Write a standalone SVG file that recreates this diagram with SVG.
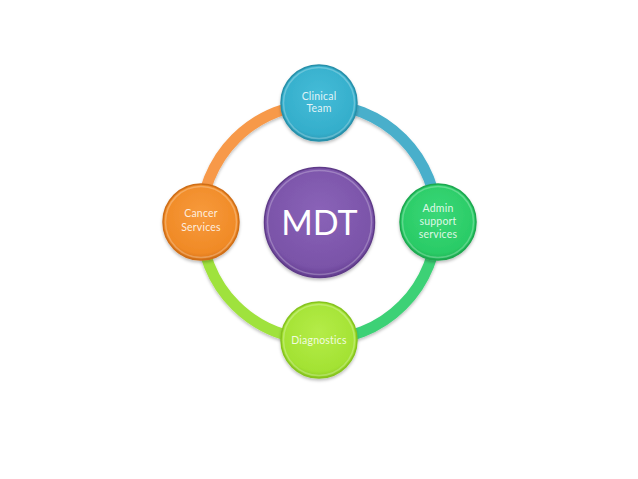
<svg xmlns="http://www.w3.org/2000/svg" width="638" height="479" viewBox="0 0 638 479">
  <defs>
    <radialGradient id="gBlue" cx="50%" cy="40%" r="60%">
      <stop offset="0" stop-color="#45bcd8"/>
      <stop offset="0.85" stop-color="#34aecb"/>
      <stop offset="1" stop-color="#2a98b4"/>
    </radialGradient>
    <radialGradient id="gOrange" cx="50%" cy="40%" r="60%">
      <stop offset="0" stop-color="#f79a3c"/>
      <stop offset="0.85" stop-color="#f08a26"/>
      <stop offset="1" stop-color="#d9741a"/>
    </radialGradient>
    <radialGradient id="gGreen" cx="50%" cy="40%" r="60%">
      <stop offset="0" stop-color="#3ad878"/>
      <stop offset="0.85" stop-color="#2acb66"/>
      <stop offset="1" stop-color="#1fb455"/>
    </radialGradient>
    <radialGradient id="gLime" cx="50%" cy="40%" r="60%">
      <stop offset="0" stop-color="#b4ec48"/>
      <stop offset="0.85" stop-color="#a3e233"/>
      <stop offset="1" stop-color="#8ccc22"/>
    </radialGradient>
    <radialGradient id="gPurple" cx="50%" cy="40%" r="60%">
      <stop offset="0" stop-color="#8a63b8"/>
      <stop offset="0.85" stop-color="#7a53a8"/>
      <stop offset="1" stop-color="#653f92"/>
    </radialGradient>
    <filter id="sh" x="-20%" y="-20%" width="140%" height="140%">
      <feDropShadow dx="0" dy="2" stdDeviation="1.5" flood-color="#000" flood-opacity="0.25"/>
    </filter>
  </defs>
  <style>
    .arc { fill: none; stroke-width: 11; filter: url(#sh); }
    .node { stroke-width: 1.5; filter: url(#sh); }
    .rim { fill: none; stroke: #ffffff; stroke-opacity: 0.25; stroke-width: 1.5; }
    .lbl { font-family: Lato, "Open Sans", "Liberation Sans", sans-serif; font-size: 10.5px; fill: #ffffff; fill-opacity: 0.85; text-anchor: middle; letter-spacing: 0.2px; }
    .big { font-family: Lato, "Open Sans", "Liberation Sans", sans-serif; font-size: 34px; fill: #ffffff; text-anchor: middle; }
  </style>
  <rect width="638" height="479" fill="#ffffff"/>
  <g id="connectors">
    <path class="arc" d="M201,222 A118,118 0 0 1 319,104" stroke="#f7994a"/>
    <path class="arc" d="M319,104 A118,118 0 0 1 437,222" stroke="#48afcb"/>
    <path class="arc" d="M437,222 A118,118 0 0 1 319,340" stroke="#3dd176"/>
    <path class="arc" d="M319,340 A118,118 0 0 1 201,222" stroke="#9fe23c"/>
  </g>
  <g id="mdt">
    <circle class="node" cx="319.5" cy="222.5" r="55" fill="url(#gPurple)" stroke="#5e3a88"/>
    <circle class="rim" cx="319.5" cy="222.5" r="52"/>
    <text class="big" x="319.5" y="234.5">MDT</text>
  </g>
  <g id="clinical-team">
    <circle class="node" cx="319" cy="103" r="38" fill="url(#gBlue)" stroke="#2890aa"/>
    <circle class="rim" cx="319" cy="103" r="35.5"/>
    <text class="lbl" x="319" y="100">Clinical</text>
    <text class="lbl" x="319" y="112">Team</text>
  </g>
  <g id="cancer-services">
    <circle class="node" cx="201" cy="222" r="38" fill="url(#gOrange)" stroke="#cf6e18"/>
    <circle class="rim" cx="201" cy="222" r="35.5"/>
    <text class="lbl" x="201" y="217">Cancer</text>
    <text class="lbl" x="201" y="231">Services</text>
  </g>
  <g id="admin-support-services">
    <circle class="node" cx="438" cy="222" r="38" fill="url(#gGreen)" stroke="#1ca84f"/>
    <circle class="rim" cx="438" cy="222" r="35.5"/>
    <text class="lbl" x="438" y="212">Admin</text>
    <text class="lbl" x="438" y="225">support</text>
    <text class="lbl" x="438" y="238">services</text>
  </g>
  <g id="diagnostics">
    <circle class="node" cx="319" cy="340" r="38" fill="url(#gLime)" stroke="#86c41f"/>
    <circle class="rim" cx="319" cy="340" r="35.5"/>
    <text class="lbl" x="319" y="343.5">Diagnostics</text>
  </g>
</svg>
